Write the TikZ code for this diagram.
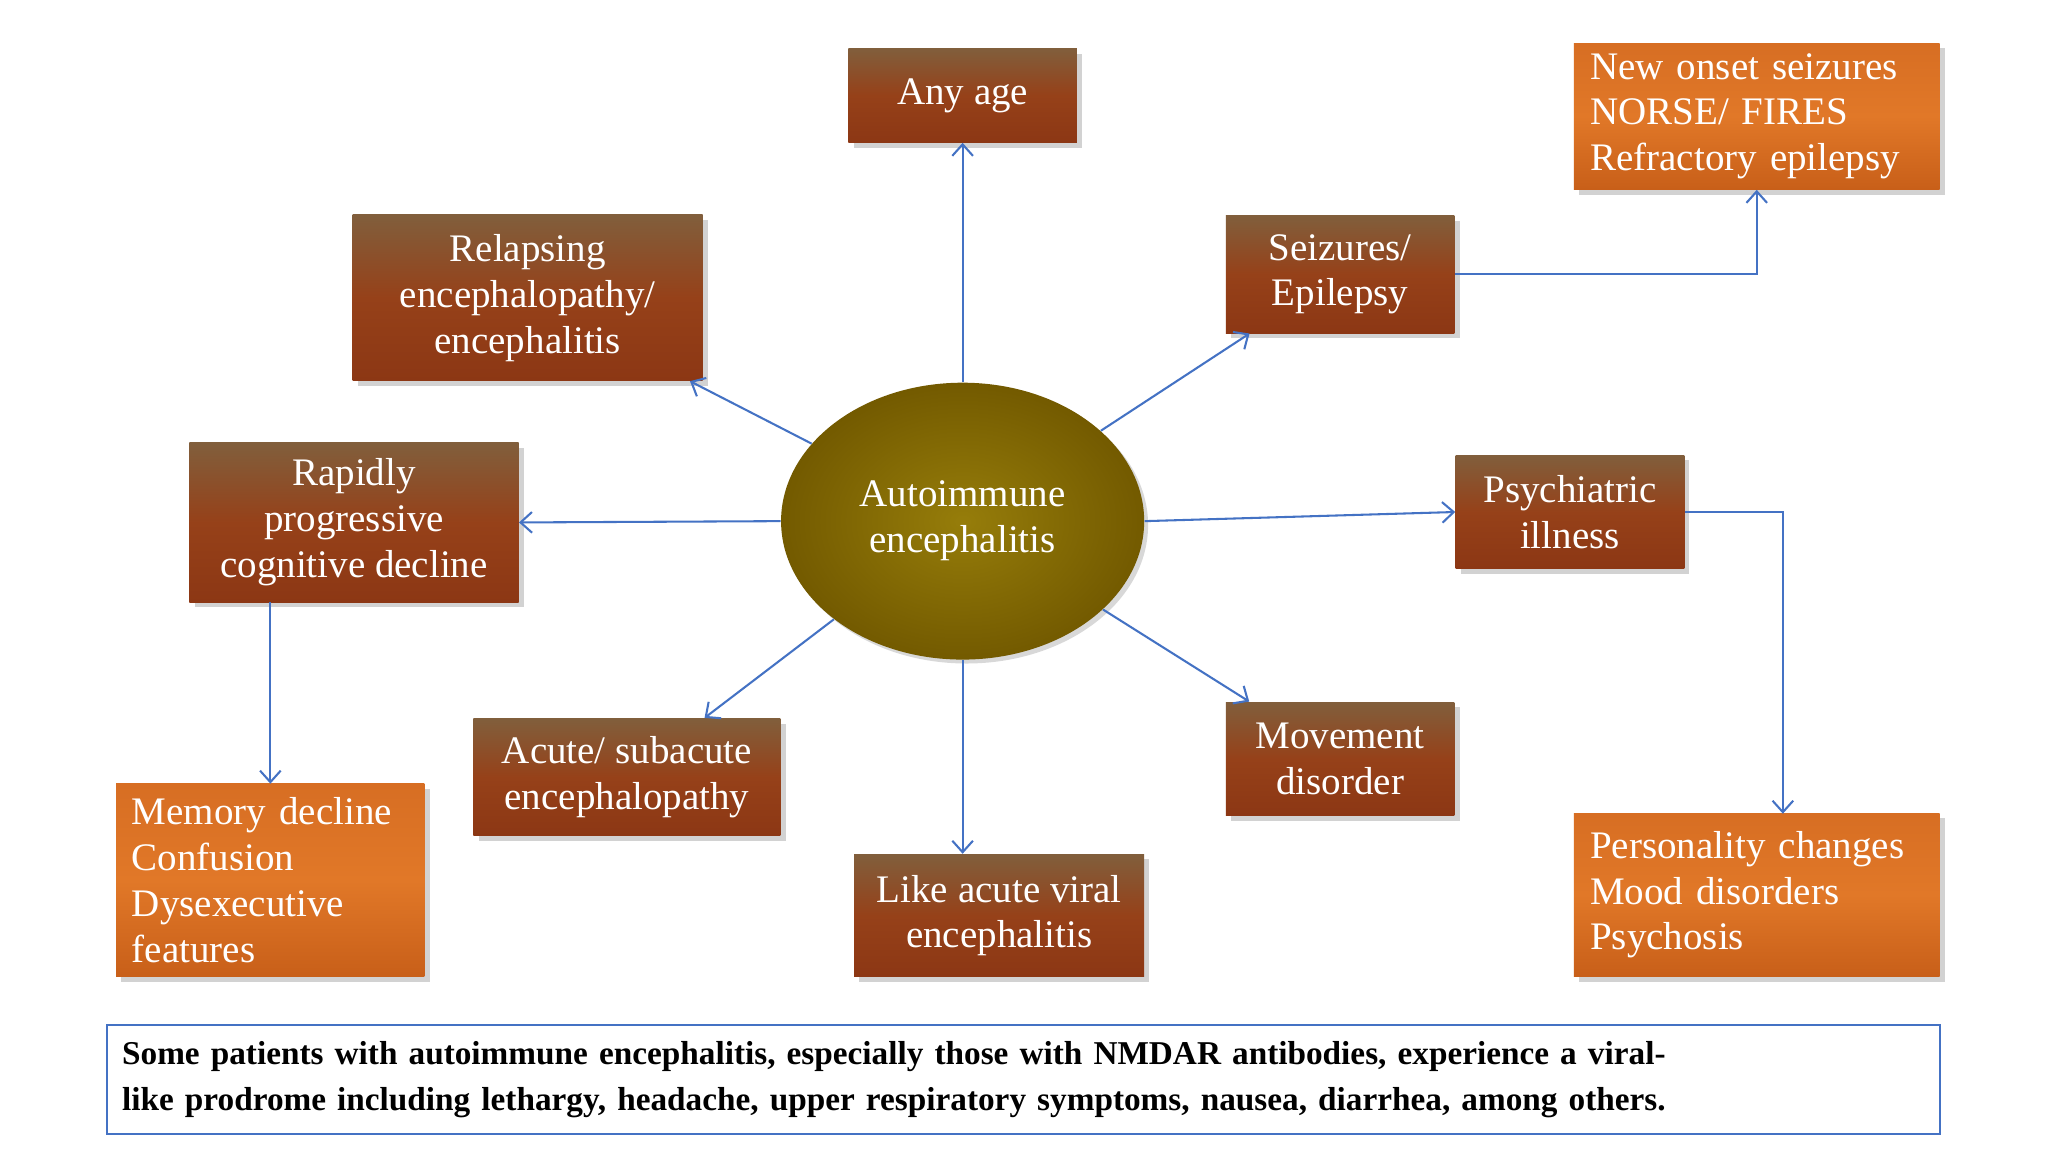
\documentclass[tikz,border=0pt]{standalone}
\usepackage{fontspec}
\setmainfont{Liberation Serif}
\usetikzlibrary{shadows,arrows.meta,shapes.geometric}
\definecolor{arr}{HTML}{4472C4}
\tikzset{
  dbox/.style={rectangle, draw=none, top color=brown!60!black!90, bottom color={rgb,255:red,140;green,55;blue,20}, middle color={rgb,255:red,150;green,65;blue,25}, text=white, align=center, inner sep=0pt, drop shadow={opacity=0.35,shadow xshift=0.08cm,shadow yshift=-0.08cm}, font=\fontsize{17}{20}\selectfont},
  obox/.style={dbox, top color={rgb,255:red,215;green,110;blue,35}, bottom color={rgb,255:red,200;green,95;blue,25}, middle color={rgb,255:red,225;green,120;blue,40}, align=left},
  con/.style={draw=arr, line width=0.9pt, -{Straight Barb[length=5pt,width=9pt]}}
}
\begin{document}
\begin{tikzpicture}[x=0.02cm,y=-0.02cm]
\useasboundingbox[fill=white] (0,0) rectangle (1568,882);
\node[dbox, minimum width=175*0.02cm, minimum height=72*0.02cm] (any) at (737,73) {Any age};
\node[dbox, minimum width=268*0.02cm, minimum height=127*0.02cm] (rel) at (404,228) {Relapsing\\encephalopathy/\\encephalitis};
\node[dbox, minimum width=175*0.02cm, minimum height=90*0.02cm] (sei) at (1026,210) {Seizures/\\Epilepsy};
\node[obox, minimum width=280*0.02cm, minimum height=112*0.02cm, text width=255*0.02cm] (new) at (1345,89) {New onset seizures\\NORSE/ FIRES\\Refractory epilepsy};
\node[dbox, minimum width=252*0.02cm, minimum height=122*0.02cm] (rap) at (271,400) {Rapidly\\progressive\\cognitive decline};
\node[dbox, minimum width=175*0.02cm, minimum height=87*0.02cm] (psy) at (1202,392) {Psychiatric\\illness};
\node[obox, minimum width=236*0.02cm, minimum height=148*0.02cm, text width=212*0.02cm] (mem) at (207,674) {Memory decline\\Confusion\\Dysexecutive\\features};
\node[dbox, minimum width=235*0.02cm, minimum height=90*0.02cm] (acu) at (480,595) {Acute/ subacute\\encephalopathy};
\node[dbox, minimum width=175*0.02cm, minimum height=87*0.02cm] (mov) at (1026,581) {Movement\\disorder};
\node[dbox, minimum width=222*0.02cm, minimum height=94*0.02cm] (vir) at (765,701) {Like acute viral\\encephalitis};
\node[obox, minimum width=280*0.02cm, minimum height=125*0.02cm, text width=255*0.02cm] (per) at (1345,685) {Personality changes\\Mood disorders\\Psychosis};
\node[ellipse, minimum width=278*0.02cm, minimum height=212*0.02cm, inner sep=0pt, inner color={rgb,255:red,150;green,125;blue,10}, outer color={rgb,255:red,115;green,90;blue,0}, text=white, align=center, drop shadow={opacity=0.3,shadow xshift=0.06cm,shadow yshift=-0.06cm}, font=\fontsize{17}{20}\selectfont] (e) at (737,399) {Autoimmune\\encephalitis};
\draw[con] (e) -- (any);
\draw[con] (e) -- (rel);
\draw[con] (e) -- (sei);
\draw[con] (e.west) -- (rap.east);
\draw[con] (e.east) -- (psy.west);
\draw[con] (e) -- (acu);
\draw[con] (e.south) -- (e.south |- vir.north);
\draw[con] (e) -- (mov);
\draw[con] (sei.east) -- (1345,210) -- (new.south);
\draw[con] (psy.east) -- (1365,392) -- (1365,623);
\draw[con] (207,461) -- (207,600);
\node[draw=arr, line width=0.8pt, minimum width=1403*0.02cm, minimum height=83*0.02cm, text width=1380*0.02cm, align=left, inner sep=0pt, font=\bfseries\fontsize{14.5}{20}\selectfont] (note) at (783.5,826.5) {Some patients with autoimmune encephalitis, especially those with NMDAR antibodies, experience a viral-\\like prodrome including lethargy, headache, upper respiratory symptoms, nausea, diarrhea, among others.};
\end{tikzpicture}
\end{document}
